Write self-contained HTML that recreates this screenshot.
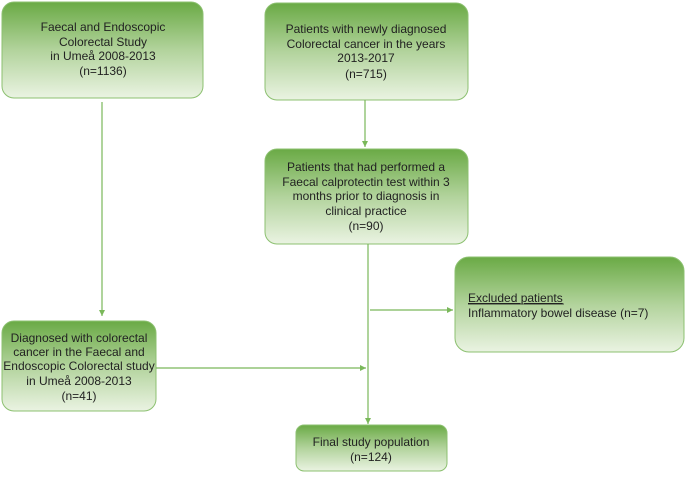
<!DOCTYPE html>
<html><head><style>
body{margin:0;background:#fff;}
svg text{font-family:"Liberation Sans",Arial,sans-serif;font-size:12px;fill:#222;}
</style></head><body>
<svg width="685" height="474" viewBox="0 0 685 474" xmlns="http://www.w3.org/2000/svg">
<defs>
<linearGradient id="g" x1="0" y1="0" x2="0" y2="1">
<stop offset="0" stop-color="#6aaa45"/>
<stop offset="0.5" stop-color="#b2d39c"/>
<stop offset="1" stop-color="#eaf3e2"/>
</linearGradient>
<marker id="a" markerWidth="8" markerHeight="8" refX="6" refY="3" orient="auto" markerUnits="userSpaceOnUse">
<path d="M0,0 L6,3 L0,6 z" fill="#7ab85a"/>
</marker>
</defs>
<g fill="url(#g)" stroke="#8cc070" stroke-width="1">
<rect x="2" y="2" width="201" height="96" rx="12"/>
<rect x="265" y="3" width="203" height="97" rx="12"/>
<rect x="265" y="149" width="203" height="95" rx="12"/>
<rect x="455" y="257" width="229" height="95" rx="14"/>
<rect x="2" y="321" width="154" height="90" rx="12"/>
<rect x="296" y="425" width="151" height="46" rx="8"/>
</g>
<g stroke="#7ab85a" stroke-width="1.2" fill="none">
<line x1="102" y1="102" x2="102" y2="316" marker-end="url(#a)"/>
<line x1="365" y1="100" x2="365" y2="147" marker-end="url(#a)"/>
<line x1="368" y1="244" x2="368" y2="424" marker-end="url(#a)"/>
<line x1="370" y1="310" x2="453" y2="310" marker-end="url(#a)"/>
<line x1="156" y1="368" x2="366" y2="368" marker-end="url(#a)"/>
</g>
<g text-anchor="middle">
<text x="103" y="31">Faecal and Endoscopic</text>
<text x="103" y="46">Colorectal Study</text>
<text x="103" y="60">in Umeå 2008-2013</text>
<text x="103" y="75">(n=1136)</text>
<text x="366" y="33">Patients with newly diagnosed</text>
<text x="366" y="48">Colorectal cancer in the years</text>
<text x="366" y="62">2013-2017</text>
<text x="366" y="78">(n=715)</text>
<text x="366" y="171">Patients that had performed a</text>
<text x="366" y="186">Faecal calprotectin test within 3</text>
<text x="366" y="200">months prior to diagnosis in</text>
<text x="366" y="215">clinical practice</text>
<text x="366" y="230">(n=90)</text>
<text x="79" y="342">Diagnosed with colorectal</text>
<text x="79" y="356">cancer in the Faecal and</text>
<text x="79" y="370">Endoscopic Colorectal study</text>
<text x="79" y="385">in Umeå 2008-2013</text>
<text x="79" y="400">(n=41)</text>
<text x="371" y="446">Final study population</text>
<text x="371" y="461">(n=124)</text>
</g>
<text x="468" y="302" text-decoration="underline">Excluded patients</text>
<line x1="468" y1="304" x2="564" y2="304" stroke="#222" stroke-width="0.8"/>
<text x="468" y="317">Inflammatory bowel disease (n=7)</text>
</svg>
</body></html>
